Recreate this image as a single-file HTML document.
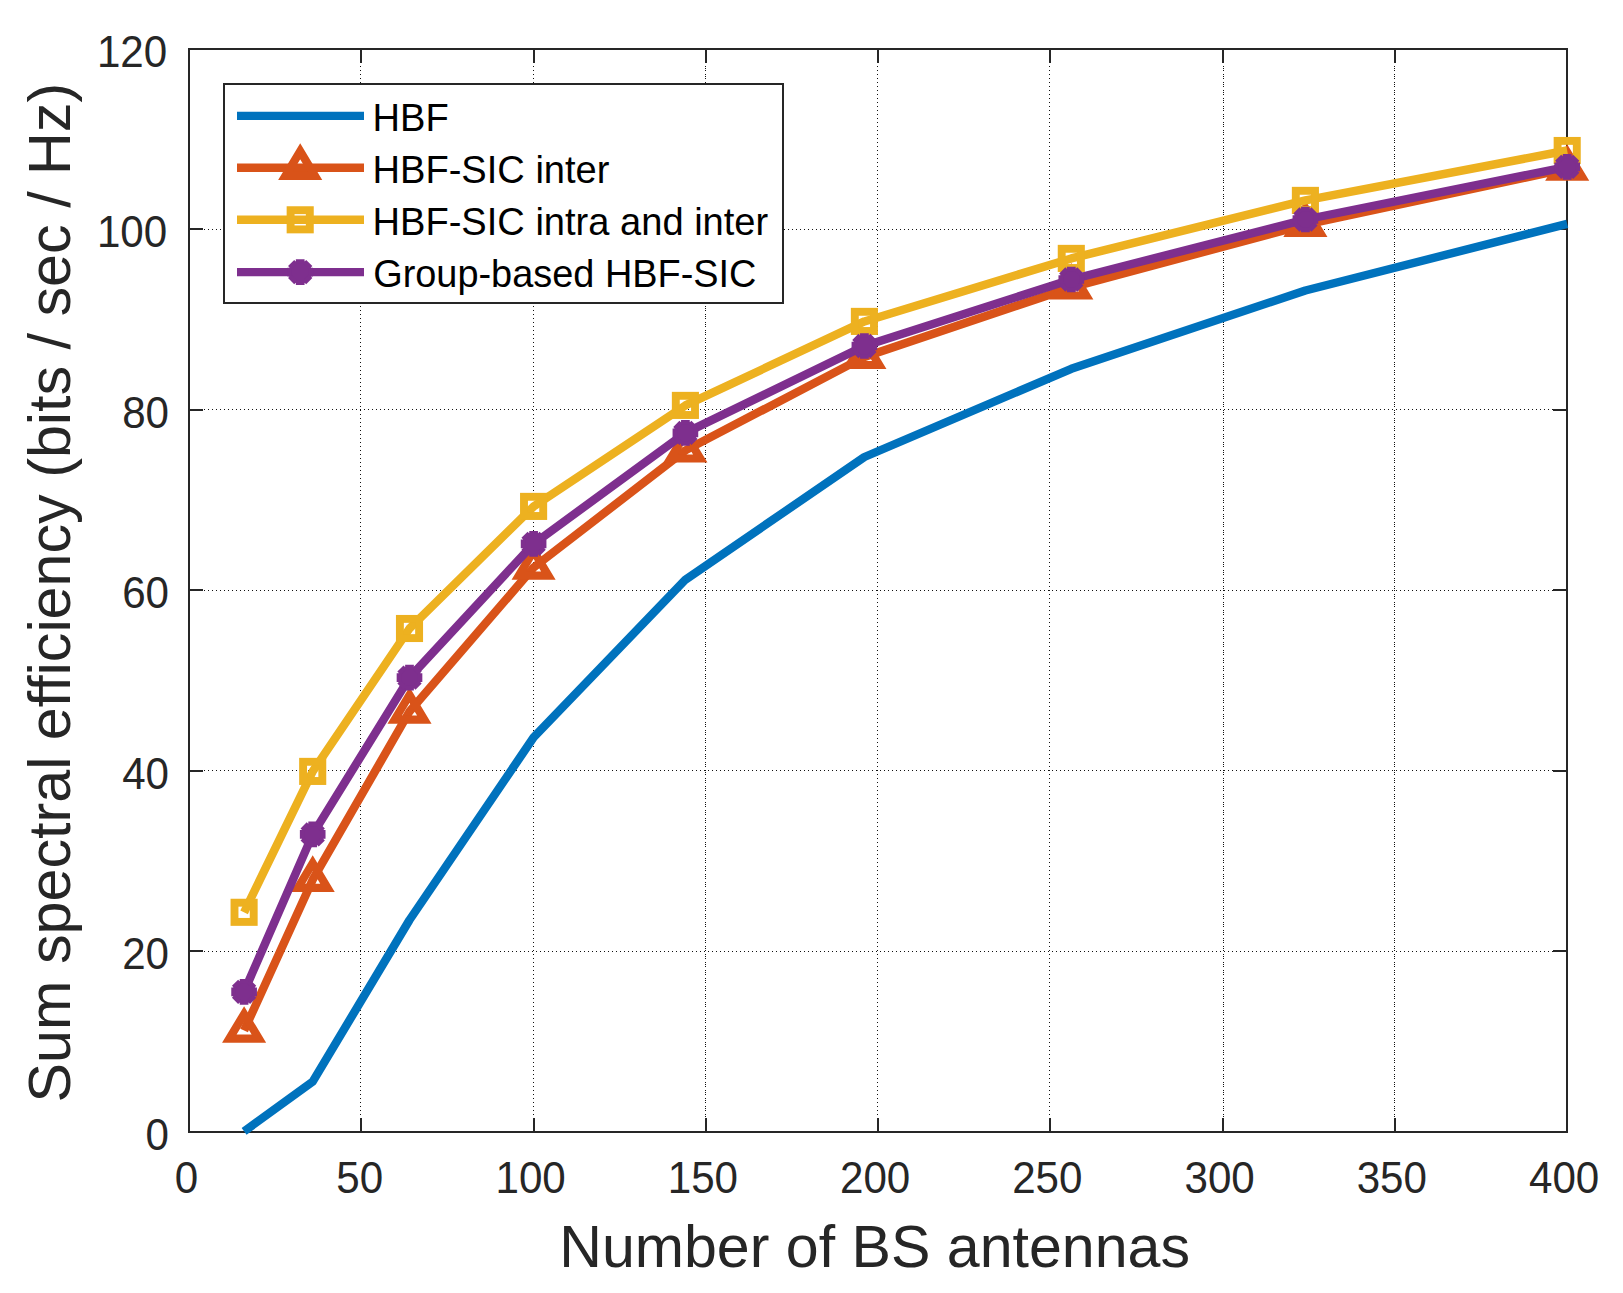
<!DOCTYPE html>
<html lang="en"><head><meta charset="utf-8"><title>Sum spectral efficiency vs number of BS antennas</title>
<style>html,body{margin:0;padding:0;background:#fff;}svg{display:block;}text{font-family:"Liberation Sans",Arial,Helvetica,sans-serif;}</style>
</head><body>
<svg width="1623" height="1293" viewBox="0 0 1623 1293">
<rect x="0" y="0" width="1623" height="1293" fill="#ffffff"/>
<g stroke="#111" stroke-width="1" stroke-dasharray="1 3" shape-rendering="crispEdges" fill="none">
<line x1="360.5" y1="50" x2="360.5" y2="1131"/>
<line x1="533.5" y1="50" x2="533.5" y2="1131"/>
<line x1="705.5" y1="50" x2="705.5" y2="1131" stroke-dasharray="1 1 1 1 1 3"/>
<line x1="877.5" y1="50" x2="877.5" y2="1131"/>
<line x1="1049.5" y1="50" x2="1049.5" y2="1131"/>
<line x1="1223.5" y1="50" x2="1223.5" y2="1131" stroke-dasharray="1 1 1 1 1 3"/>
<line x1="1394.5" y1="50" x2="1394.5" y2="1131" stroke-dasharray="1 1 1 1 1 3"/>
<line x1="192" y1="951.5" x2="1566" y2="951.5"/>
<line x1="192" y1="770.5" x2="1566" y2="770.5"/>
<line x1="192" y1="590.5" x2="1566" y2="590.5"/>
<line x1="192" y1="409.5" x2="1566" y2="409.5"/>
<line x1="192" y1="229.5" x2="1566" y2="229.5"/>
</g>
<g stroke="#262626" stroke-width="2" fill="none" shape-rendering="crispEdges">
<rect x="189.0" y="49.0" width="1378.0" height="1083.0"/>
<line x1="361" y1="1132.0" x2="361" y2="1118.0"/>
<line x1="361" y1="49.0" x2="361" y2="63.0"/>
<line x1="534" y1="1132.0" x2="534" y2="1118.0"/>
<line x1="534" y1="49.0" x2="534" y2="63.0"/>
<line x1="706" y1="1132.0" x2="706" y2="1118.0"/>
<line x1="706" y1="49.0" x2="706" y2="63.0"/>
<line x1="878" y1="1132.0" x2="878" y2="1118.0"/>
<line x1="878" y1="49.0" x2="878" y2="63.0"/>
<line x1="1050" y1="1132.0" x2="1050" y2="1118.0"/>
<line x1="1050" y1="49.0" x2="1050" y2="63.0"/>
<line x1="1223" y1="1132.0" x2="1223" y2="1118.0"/>
<line x1="1223" y1="49.0" x2="1223" y2="63.0"/>
<line x1="1395" y1="1132.0" x2="1395" y2="1118.0"/>
<line x1="1395" y1="49.0" x2="1395" y2="63.0"/>
<line x1="189.0" y1="951" x2="203.0" y2="951"/>
<line x1="1567.0" y1="951" x2="1553.0" y2="951"/>
<line x1="189.0" y1="771" x2="203.0" y2="771"/>
<line x1="1567.0" y1="771" x2="1553.0" y2="771"/>
<line x1="189.0" y1="590" x2="203.0" y2="590"/>
<line x1="1567.0" y1="590" x2="1553.0" y2="590"/>
<line x1="189.0" y1="410" x2="203.0" y2="410"/>
<line x1="1567.0" y1="410" x2="1553.0" y2="410"/>
<line x1="189.0" y1="229" x2="203.0" y2="229"/>
<line x1="1567.0" y1="229" x2="1553.0" y2="229"/>
</g>
<g fill="#262626" font-size="42.15">
<text transform="translate(186.5,1193.3) scale(1,1.045)" text-anchor="middle">0</text>
<text transform="translate(359.8,1193.3) scale(1,1.045)" text-anchor="middle">50</text>
<text transform="translate(530.6,1193.3) scale(1,1.045)" text-anchor="middle">100</text>
<text transform="translate(702.9,1193.3) scale(1,1.045)" text-anchor="middle">150</text>
<text transform="translate(875.1,1193.3) scale(1,1.045)" text-anchor="middle">200</text>
<text transform="translate(1047.3,1193.3) scale(1,1.045)" text-anchor="middle">250</text>
<text transform="translate(1219.6,1193.3) scale(1,1.045)" text-anchor="middle">300</text>
<text transform="translate(1391.8,1193.3) scale(1,1.045)" text-anchor="middle">350</text>
<text transform="translate(1564.1,1193.3) scale(1,1.045)" text-anchor="middle">400</text>
<text transform="translate(169.0,1149.5) scale(1,1.045)" text-anchor="end">0</text>
<text transform="translate(169.0,969.0) scale(1,1.045)" text-anchor="end">20</text>
<text transform="translate(169.0,788.5) scale(1,1.045)" text-anchor="end">40</text>
<text transform="translate(169.0,608.0) scale(1,1.045)" text-anchor="end">60</text>
<text transform="translate(169.0,427.5) scale(1,1.045)" text-anchor="end">80</text>
<text transform="translate(167.2,247.0) scale(1,1.045)" text-anchor="end">100</text>
<text transform="translate(167.2,66.5) scale(1,1.045)" text-anchor="end">120</text>
</g>
<text x="874.6" y="1266.6" text-anchor="middle" font-size="59.1" fill="#262626">Number of BS antennas</text>
<text transform="translate(70,592.6) rotate(-90)" text-anchor="middle" font-size="59.25" fill="#262626">Sum spectral efficiency (bits / sec / Hz)</text>
<g fill="none" stroke-width="8.4" stroke-linejoin="round" stroke-linecap="butt">
<polyline points="244.1,1131.3 312.7,1081.7 409.5,920.0 533.6,737.4 685.4,579.7 864.4,457.0 1071.3,368.8 1305.4,290.5 1567.2,223.9" stroke="#0072BD"/>
<polyline points="244.1,1030.6 312.7,879.7 409.5,711.5 533.6,567.5 685.4,450.4 864.4,356.9 1071.3,287.4 1305.4,224.7 1567.2,168.6" stroke="#D95319"/>
<g stroke="#D95319" stroke-linejoin="miter" stroke-width="8.2"><polygon points="229.3,1038.7 258.9,1038.7 244.1,1014.1"/><polygon points="297.9,887.8 327.5,887.8 312.7,863.2"/><polygon points="394.7,719.7 424.3,719.7 409.5,695.0"/><polygon points="518.8,575.7 548.4,575.7 533.6,551.0"/><polygon points="670.6,458.5 700.2,458.5 685.4,433.9"/><polygon points="849.6,365.0 879.2,365.0 864.4,340.4"/><polygon points="1056.5,295.5 1086.1,295.5 1071.3,270.9"/><polygon points="1290.6,232.8 1320.2,232.8 1305.4,208.2"/><polygon points="1552.4,176.7 1582.0,176.7 1567.2,152.1"/></g>
<polyline points="244.1,912.3 312.7,771.4 409.5,628.5 533.6,506.4 685.4,405.4 864.4,321.4 1071.3,258.4 1305.4,200.4 1567.2,150.5" stroke="#EDB120"/>
<g stroke="#EDB120" stroke-linejoin="miter" stroke-width="7.9"><rect x="234.5" y="902.7" width="19.2" height="19.2"/><rect x="303.1" y="761.8" width="19.2" height="19.2"/><rect x="399.9" y="618.9" width="19.2" height="19.2"/><rect x="524.0" y="496.8" width="19.2" height="19.2"/><rect x="675.8" y="395.8" width="19.2" height="19.2"/><rect x="854.8" y="311.8" width="19.2" height="19.2"/><rect x="1061.7" y="248.8" width="19.2" height="19.2"/><rect x="1295.8" y="190.8" width="19.2" height="19.2"/><rect x="1557.6" y="140.9" width="19.2" height="19.2"/></g>
<polyline points="244.1,991.8 312.7,834.4 409.5,677.6 533.6,543.8 685.4,432.9 864.4,346.0 1071.3,279.5 1305.4,219.5 1567.2,166.8" stroke="#7E2F8E"/>
<g fill="#7E2F8E" stroke="none"><polygon points="254.63,996.16 248.46,1002.33 239.74,1002.33 233.57,996.16 233.57,987.44 239.74,981.27 248.46,981.27 254.63,987.44" fill="#7E2F8E" stroke="none"/><path d="M254.63 996.16L248.46 1002.33M248.46 1002.33L239.74 1002.33M239.74 1002.33L233.57 996.16M233.57 996.16L233.57 987.44M233.57 987.44L239.74 981.27M239.74 981.27L248.46 981.27M248.46 981.27L254.63 987.44M254.63 987.44L254.63 996.16" fill="none" stroke="#7E2F8E" stroke-width="4.6" stroke-linecap="butt"/><polygon points="323.23,838.76 317.06,844.93 308.34,844.93 302.17,838.76 302.17,830.04 308.34,823.87 317.06,823.87 323.23,830.04" fill="#7E2F8E" stroke="none"/><path d="M323.23 838.76L317.06 844.93M317.06 844.93L308.34 844.93M308.34 844.93L302.17 838.76M302.17 838.76L302.17 830.04M302.17 830.04L308.34 823.87M308.34 823.87L317.06 823.87M317.06 823.87L323.23 830.04M323.23 830.04L323.23 838.76" fill="none" stroke="#7E2F8E" stroke-width="4.6" stroke-linecap="butt"/><polygon points="420.03,681.96 413.86,688.13 405.14,688.13 398.97,681.96 398.97,673.24 405.14,667.07 413.86,667.07 420.03,673.24" fill="#7E2F8E" stroke="none"/><path d="M420.03 681.96L413.86 688.13M413.86 688.13L405.14 688.13M405.14 688.13L398.97 681.96M398.97 681.96L398.97 673.24M398.97 673.24L405.14 667.07M405.14 667.07L413.86 667.07M413.86 667.07L420.03 673.24M420.03 673.24L420.03 681.96" fill="none" stroke="#7E2F8E" stroke-width="4.6" stroke-linecap="butt"/><polygon points="544.13,548.16 537.96,554.33 529.24,554.33 523.07,548.16 523.07,539.44 529.24,533.27 537.96,533.27 544.13,539.44" fill="#7E2F8E" stroke="none"/><path d="M544.13 548.16L537.96 554.33M537.96 554.33L529.24 554.33M529.24 554.33L523.07 548.16M523.07 548.16L523.07 539.44M523.07 539.44L529.24 533.27M529.24 533.27L537.96 533.27M537.96 533.27L544.13 539.44M544.13 539.44L544.13 548.16" fill="none" stroke="#7E2F8E" stroke-width="4.6" stroke-linecap="butt"/><polygon points="695.93,437.26 689.76,443.43 681.04,443.43 674.87,437.26 674.87,428.54 681.04,422.37 689.76,422.37 695.93,428.54" fill="#7E2F8E" stroke="none"/><path d="M695.93 437.26L689.76 443.43M689.76 443.43L681.04 443.43M681.04 443.43L674.87 437.26M674.87 437.26L674.87 428.54M674.87 428.54L681.04 422.37M681.04 422.37L689.76 422.37M689.76 422.37L695.93 428.54M695.93 428.54L695.93 437.26" fill="none" stroke="#7E2F8E" stroke-width="4.6" stroke-linecap="butt"/><polygon points="874.93,350.36 868.76,356.53 860.04,356.53 853.87,350.36 853.87,341.64 860.04,335.47 868.76,335.47 874.93,341.64" fill="#7E2F8E" stroke="none"/><path d="M874.93 350.36L868.76 356.53M868.76 356.53L860.04 356.53M860.04 356.53L853.87 350.36M853.87 350.36L853.87 341.64M853.87 341.64L860.04 335.47M860.04 335.47L868.76 335.47M868.76 335.47L874.93 341.64M874.93 341.64L874.93 350.36" fill="none" stroke="#7E2F8E" stroke-width="4.6" stroke-linecap="butt"/><polygon points="1081.83,283.86 1075.66,290.03 1066.94,290.03 1060.77,283.86 1060.77,275.14 1066.94,268.97 1075.66,268.97 1081.83,275.14" fill="#7E2F8E" stroke="none"/><path d="M1081.83 283.86L1075.66 290.03M1075.66 290.03L1066.94 290.03M1066.94 290.03L1060.77 283.86M1060.77 283.86L1060.77 275.14M1060.77 275.14L1066.94 268.97M1066.94 268.97L1075.66 268.97M1075.66 268.97L1081.83 275.14M1081.83 275.14L1081.83 283.86" fill="none" stroke="#7E2F8E" stroke-width="4.6" stroke-linecap="butt"/><polygon points="1315.93,223.86 1309.76,230.03 1301.04,230.03 1294.87,223.86 1294.87,215.14 1301.04,208.97 1309.76,208.97 1315.93,215.14" fill="#7E2F8E" stroke="none"/><path d="M1315.93 223.86L1309.76 230.03M1309.76 230.03L1301.04 230.03M1301.04 230.03L1294.87 223.86M1294.87 223.86L1294.87 215.14M1294.87 215.14L1301.04 208.97M1301.04 208.97L1309.76 208.97M1309.76 208.97L1315.93 215.14M1315.93 215.14L1315.93 223.86" fill="none" stroke="#7E2F8E" stroke-width="4.6" stroke-linecap="butt"/><polygon points="1577.73,171.16 1571.56,177.33 1562.84,177.33 1556.67,171.16 1556.67,162.44 1562.84,156.27 1571.56,156.27 1577.73,162.44" fill="#7E2F8E" stroke="none"/><path d="M1577.73 171.16L1571.56 177.33M1571.56 177.33L1562.84 177.33M1562.84 177.33L1556.67 171.16M1556.67 171.16L1556.67 162.44M1556.67 162.44L1562.84 156.27M1562.84 156.27L1571.56 156.27M1571.56 156.27L1577.73 162.44M1577.73 162.44L1577.73 171.16" fill="none" stroke="#7E2F8E" stroke-width="4.6" stroke-linecap="butt"/></g>
</g>
<rect x="224" y="84" width="559" height="219" fill="#ffffff" stroke="#262626" stroke-width="2" shape-rendering="crispEdges"/>
<g fill="none" stroke-width="8.4">
<line x1="237" y1="115.9" x2="364" y2="115.9" stroke="#0072BD"/>
<line x1="237" y1="167.8" x2="364" y2="167.8" stroke="#D95319"/>
<line x1="237" y1="219.8" x2="364" y2="219.8" stroke="#EDB120"/>
<line x1="237" y1="272.1" x2="364" y2="272.1" stroke="#7E2F8E"/>
<g stroke="#D95319" stroke-linejoin="miter" stroke-width="8.2"><polygon points="285.4,175.9 315.0,175.9 300.2,151.3"/></g>
<g stroke="#EDB120" stroke-linejoin="miter" stroke-width="7.9"><rect x="290.6" y="210.2" width="19.2" height="19.2"/></g>
<g fill="#7E2F8E" stroke="none"><polygon points="310.73,276.46 304.56,282.63 295.84,282.63 289.67,276.46 289.67,267.74 295.84,261.57 304.56,261.57 310.73,267.74" fill="#7E2F8E" stroke="none"/><path d="M310.73 276.46L304.56 282.63M304.56 282.63L295.84 282.63M295.84 282.63L289.67 276.46M289.67 276.46L289.67 267.74M289.67 267.74L295.84 261.57M295.84 261.57L304.56 261.57M304.56 261.57L310.73 267.74M310.73 267.74L310.73 276.46" fill="none" stroke="#7E2F8E" stroke-width="4.6" stroke-linecap="butt"/></g>
</g>
<g fill="#000000" font-size="38.1">
<text x="372.5" y="131.0">HBF</text>
<text x="372.5" y="182.9">HBF-SIC inter</text>
<text x="372.5" y="234.9">HBF-SIC intra and inter</text>
<text font-size="37.9" x="373.2" y="287.2">Group-based HBF-SIC</text>
</g>
</svg></body></html>
